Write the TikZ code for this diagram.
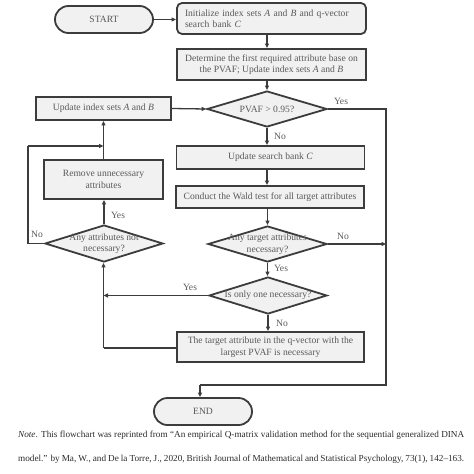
\documentclass[tikz,border=0pt]{standalone}
\usepackage{fontspec}
\setmainfont{Liberation Serif}
\usetikzlibrary{arrows.meta,shapes.geometric}
\definecolor{linec}{HTML}{3C3C3C}
\definecolor{boxfill}{HTML}{F1F1F1}
\definecolor{txt}{HTML}{5A5A5A}
\definecolor{notetxt}{HTML}{2A2A2A}
\begin{document}
\begin{tikzpicture}[x=1pt,y=-1pt,
  boxtext/.style={font=\fontsize{9.6}{11.5}\selectfont, text=txt},
  flowbox/.style={draw=linec, fill=boxfill, line width=1.8pt, inner sep=0pt, align=center, boxtext},
  term/.style={flowbox, minimum width=98pt, minimum height=27pt, rounded corners=13.5pt},
  dia/.style={draw=linec, fill=boxfill, line width=1.8pt, shape=diamond, inner sep=0pt},
  conn/.style={draw=linec, line width=1.3pt},
  arr/.style={conn, -{Triangle[length=4.5pt,width=4pt]}},
  lbl/.style={font=\fontsize{9.6}{12}\selectfont, text=txt, inner sep=0pt},
  notestyle/.style={anchor=north west, inner sep=0pt, text=notetxt, text width=446pt, align=justify, font=\fontsize{9.2}{24}\selectfont}
]
\useasboundingbox (0,0) rectangle (474,474);
% nodes
\node[term] (start) at (104,19.5) {START};
\node[flowbox, minimum width=189pt, minimum height=31pt, rounded corners=5pt, align=left, text width=173pt] (init) at (271.5,18.5)
  {Initialize index sets \textit{A} and \textit{B} and q-vector\\search bank \textit{C}};
\node[flowbox, minimum width=189pt, minimum height=31pt] (det) at (271.5,64.5)
  {Determine the first required attribute base on\\the PVAF; Update index sets \textit{A} and \textit{B}};
\node[dia, minimum width=120pt, minimum height=36pt] (pvaf) at (267,109) {};
\node[boxtext] (pvaft) at (pvaf.center) {PVAF > 0.95?};
\node[flowbox, minimum width=135pt, minimum height=23pt] (updab) at (103.5,108.5) {Update index sets \textit{A} and \textit{B}};
\node[flowbox, minimum width=119pt, minimum height=39pt] (remove) at (103.5,179.5) {Remove unnecessary\\attributes};
\node[dia, minimum width=118pt, minimum height=37pt] (anynot) at (104,243.5) {};
\node[boxtext, align=center] (anynott) at (anynot.center) {Any attributes not\\necessary?};
\node[flowbox, minimum width=188pt, minimum height=23pt] (updc) at (270.5,157.5) {Update search bank \textit{C}};
\node[flowbox, minimum width=188pt, minimum height=22pt] (wald) at (270,197) {Conduct the Wald test for all target attributes};
\node[dia, minimum width=119pt, minimum height=36pt] (anytar) at (267.5,244) {};
\node[boxtext, align=center] (anytart) at (anytar.center) {Any target attributes\\necessary?};
\node[dia, minimum width=118pt, minimum height=37pt] (isone) at (268,295.5) {};
\node[boxtext] (isonet) at (isone.center) {Is only one necessary?};
\node[flowbox, minimum width=187pt, minimum height=30pt] (target) at (270.5,347)
  {The target attribute in the q-vector with the\\largest PVAF is necessary};
\node[term] (end) at (203,411.5) {END};
% coordinates
\coordinate (r1) at (386,109);
\coordinate (r2) at (386,385);
\coordinate (r3) at (200,385);
\coordinate (l1) at (28,243.5);
\coordinate (l2) at (28,146);
\coordinate (j1) at (103.5,146);
\coordinate (b1) at (103.5,348);
\coordinate (b2) at (103.5,295.5);
% connectors
\draw[arr] (start.east) -- (init.west |- start.east);
\draw[arr] (init.south -| pvaf.center) -- (det.north -| pvaf.center);
\draw[arr] (det.south -| pvaf.center) -- (pvaf.north);
\draw[arr] (pvaf.south) -- (updc.north -| pvaf.center);
\draw[arr] (updc.south -| pvaf.center) -- (wald.north -| pvaf.center);
\draw[arr] (wald.south -| anytar.center) -- (anytar.north);
\draw[arr] (anytar.south) -- (isone.north -| anytar.center);
\draw[arr] (isone.south) -- (target.north -| isone.center);
\draw[conn] (pvaf.east) -- (r1) -- (r2) -- (r3);
\draw[arr] (r3) -- (end.north -| r3);
\draw[arr] (anytar.east) -- (anytar.east -| r1);
\draw[arr] (updab.east) -- (pvaf.west);
\draw[arr] (remove.north) -- (updab.south -| remove.north);
\draw[arr] (anynot.north) -- (remove.south -| anynot.north);
\draw[conn] (anynot.west) -- (l1) -- (l2);
\draw[arr] (l2) -- (j1);
\draw[conn] (target.west |- b1) -- (b1);
\draw[arr] (b1) -- (anynot.south -| b1);
\draw[arr] (isone.west) -- (b2);
% labels
\node[lbl] (ly1) at (341,101) {Yes};
\node[lbl] (ln1) at (280,136) {No};
\node[lbl] (ly2) at (118,215) {Yes};
\node[lbl] (ln2) at (37,234) {No};
\node[lbl] (ln3) at (343,236) {No};
\node[lbl] (ly3) at (281,268) {Yes};
\node[lbl] (ly4) at (190,287) {Yes};
\node[lbl] (ln4) at (282,323) {No};
% note
\node[notestyle] (note) at (18,430.5)
  {\textit{Note}. This flowchart was reprinted from “An empirical Q-matrix validation method for the sequential generalized DINA\linebreak
  model.” by Ma, W., and De la Torre, J., 2020, British Journal of Mathematical and Statistical Psychology, 73(1), 142–163.};
\end{tikzpicture}
\end{document}
